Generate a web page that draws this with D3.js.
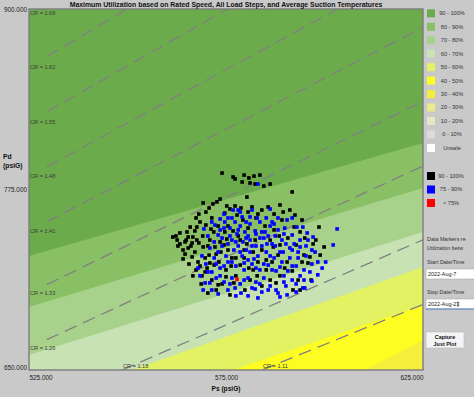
<!DOCTYPE html>
<html>
<head>
<meta charset="utf-8">
<script src="https://cdn.jsdelivr.net/npm/d3@7"></script>
<style>
  body { margin: 0; background: #c9c9c9; overflow: hidden; }
  svg { display: block; font-family: "Liberation Sans", Arial, sans-serif; }
</style>
</head>
<body>
<svg id="chart" width="474" height="397"></svg>
<script>
// ---- data ----
const chartTitle = "Maximum Utilization based on Rated Speed, All Load Steps, and Average Suction Temperatures";
const psTicks = [525, 575, 625];
const pdTicks = [650, 775, 900];

const bandLabels = ["90 - 100%", "80 - 90%", "70 - 80%", "60 - 70%", "50 - 60%", "40 - 50%",
                    "30 - 40%", "20 - 30%", "10 - 20%", "0 - 10%", "Unsafe"];
const bandColors = ["#6bab4c", "#8ac065", "#a8d28b", "#c8e2b4", "#e2f262", "#fdfd22",
                    "#f3ef3a", "#ebe98a", "#e6e6c3", "#dcdcdc", "#ffffff"];

// lower edge of each utilization band (first 6 bands), given as two (Ps, Pd) points
const edgeStartPs = [525, 525, 525, 551.1, 576.8, 610.3];
const edgeStartPd = [728.9, 693.6, 660.4, 650.0, 650.0, 650.0];
const edgeEndPs   = [625, 625, 625, 625, 625, 625];
const edgeEndPd   = [807.2, 776.0, 745.6, 721.3, 695.0, 670.8];

// compression ratio reference lines
const crValues = [1.69, 1.62, 1.55, 1.48, 1.41, 1.33, 1.26, 1.18, 1.11];

const markerLabels = ["90 - 100%", "75 - 90%", "< 75%"];
const markerColors = ["#000000", "#0000ff", "#ff0000"];

const blackPoints = [
  [574.0,786.4],[576.8,783.7],[577.3,782.3],[579.6,785.0],[580.8,783.0],[582.1,784.3],[583.6,785.0],
  [579.1,780.2],[581.1,779.5],[582.4,778.8],[584.6,777.4],[586.2,778.8],[591.8,773.3],[580.3,769.8],
  [569.2,765.7],[571.7,765.0],[572.7,766.4],[573.5,768.4],[576.0,761.5],[577.3,763.6],[578.8,762.2],
  [581.6,762.9],[584.1,760.8],[585.7,762.9],[589.5,759.4],[591.2,760.8],[592.5,757.3],
  [561.5,742.1],[562.3,742.8],[563.3,744.9],[565.1,745.6],[566.6,742.1],[566.4,738.0],[567.6,749.0],
  [568.4,752.5],[564.1,726.9],[565.4,734.5],[567.1,731.7],[567.9,724.8],[569.7,727.6],[569.2,735.2],
  [564.6,738.7],[565.9,749.0],[570.4,703.3],[567.4,719.3],[568.9,715.2],[570.2,720.6],[571.4,712.3],
  [570.9,740.0],[571.9,745.6],[569.9,750.4],[571.4,755.3],[563.3,737.3],[562.6,740.0],[568.7,709.6],
  [572.5,705.4],[573.2,724.8],[573.7,731.7],[574.5,736.6],[575.0,719.3],[576.5,727.6],[577.5,715.2],
  [578.6,722.7],[579.6,733.1],[578.1,742.8],[575.5,749.7],[580.6,748.3],[582.4,740.0],[583.1,724.8],
  [584.1,733.1],[585.2,719.3],[581.1,712.3],[586.2,740.0],[587.2,747.0],[588.2,729.6],[589.2,753.9],
  [589.9,720.6],[592.0,705.4],[592.8,736.6],[593.8,745.6],[594.8,729.6],[595.8,724.1],[596.3,728.3],
  [596.6,712.3],[598.6,749.0],[599.9,735.2],[597.8,740.0],[594.3,753.9],[590.7,741.4],[587.7,710.3],
  [584.1,708.2],[579.8,705.4],[576.0,702.0],[574.0,709.6],[577.0,710.3],[575.2,740.7],[579.3,753.9],
  [582.6,755.3],[584.9,749.7],[573.0,749.7],[572.2,735.2],[570.7,729.6],[572.0,722.7],[568.1,738.0],
  [565.4,742.1],[567.1,746.3],[564.1,733.1],[570.4,735.9],[574.7,758.7],[577.8,757.3],[569.9,759.4],
  [567.4,755.3],[581.9,719.3],[586.7,724.8],[591.8,718.6],[593.3,712.3],[588.7,736.6],[580.3,737.3],
  [564.9,740.0],[566.1,735.9],[567.6,740.0],[569.1,742.8],[571.2,747.6],[562.8,735.9],[564.6,730.3],
  [566.4,728.3],[565.6,723.4],[568.4,722.0],[569.7,717.9],[566.6,715.2],[570.9,724.1],[572.5,730.3],
  [573.5,738.7],[574.7,745.6],[576.8,746.3],[578.6,740.0],[575.5,733.1],[577.5,727.6],[579.6,727.6],
  [576.3,722.0],[575.0,714.5],[573.0,709.0],[581.9,731.7],[580.8,720.6],[582.9,715.2],[585.2,726.2],
  [587.0,735.2],[588.5,742.8],[592.3,749.0],[595.0,741.4],[597.1,737.3],[598.9,729.6],[594.3,724.8],
  [590.5,724.8],[588.7,715.2],[586.2,712.3],[593.8,705.4],[583.1,758.0],[580.6,759.4],[575.2,763.6],
  [570.7,762.2],[568.1,758.0],[588.7,764.3],[587.2,758.0]
];

const bluePoints = [
  [583.1,778.8],
  [576.8,760.8],[578.1,760.8],[579.1,756.0],[581.1,756.0],[582.9,755.3],[586.2,761.5],[586.7,752.5],
  [590.5,753.9],[591.8,755.3],[593.0,749.0],[594.5,749.0],[595.6,744.9],[597.1,742.1],[603.2,747.7],
  [602.2,736.6],[596.8,733.1],[595.0,706.8],[590.5,702.0],[588.7,700.6],[588.2,703.3],[594.5,706.8],
  [582.4,706.1],[578.8,703.3],[577.3,706.8],[569.7,710.3],[569.2,705.4],[570.9,710.3],[568.4,715.2],
  [572.2,750.4],[573.5,747.0],[574.7,752.5],[576.0,748.3],[577.3,752.5],[578.6,749.7],[579.8,745.6],
  [581.1,751.1],[582.4,746.3],[583.6,752.5],[584.9,745.6],[586.2,749.7],[588.2,747.0],[589.9,748.3],
  [591.8,743.5],[593.8,740.0],[595.3,735.9],[593.3,731.7],[591.2,734.5],[589.2,740.0],[587.5,742.8],
  [585.4,737.3],[583.6,741.4],[581.6,735.9],[580.1,741.4],[577.5,738.7],[576.0,742.8],[574.0,741.4],
  [572.0,738.7],[570.4,742.8],[569.4,747.7],[570.9,734.5],[573.0,731.7],[575.0,728.9],[577.0,733.1],
  [579.1,728.9],[581.1,731.7],[583.1,728.9],[585.2,731.7],[587.2,727.6],[589.2,724.8],[591.2,727.6],
  [592.8,722.0],[594.8,719.3],[596.3,717.9],[593.8,715.2],[591.8,712.3],[589.7,715.2],[587.7,718.6],
  [585.7,722.7],[583.6,719.3],[581.6,723.4],[579.6,719.3],[577.5,722.0],[575.5,724.8],[573.5,720.6],
  [571.4,717.9],[569.9,723.4],[572.5,713.7],[574.5,710.9],[576.5,713.7],[578.6,709.6],[580.6,713.7],
  [582.6,710.9],[584.6,713.7],[586.2,708.2],[590.2,708.2],[592.8,704.0],[584.1,704.0],[580.6,701.3],
  [575.5,705.4],[573.0,702.7],[578.1,735.9],[580.1,733.1],[574.0,735.9],[575.5,737.3],[572.0,727.6],
  [579.6,724.1],[582.1,726.9],[584.1,735.9],[587.5,735.9],[589.5,731.7],[586.2,729.0],[578.1,747.0],
  [580.6,742.8],[582.6,744.2],[584.6,741.4],[576.5,755.3],[574.5,758.0],[588.2,755.3],[589.7,744.2],
  [598.3,724.8],[597.6,731.7],[599.4,720.6],[596.8,711.6],[567.9,720.6],[568.9,729.0],
  [571.4,752.5],[573.0,743.5],[574.5,748.3],[576.5,740.0],[577.8,744.2],[579.3,738.7],[581.1,740.0],
  [582.6,735.9],[584.1,745.6],[585.7,742.8],[586.7,737.3],[588.7,731.7],[590.2,737.3],[592.3,737.3],
  [593.3,727.6],[595.3,729.0],[596.8,723.4],[594.8,712.3],[592.8,709.6],[590.7,718.6],[588.7,721.3],
  [586.7,719.3],[584.6,723.4],[582.6,720.6],[580.6,726.2],[578.6,731.7],[576.5,724.8],[574.5,722.0],
  [572.5,723.4],[570.4,717.9],[571.4,705.4],[573.5,715.2],[576.0,709.6],[579.6,712.3],[581.6,706.8],
  [583.6,709.6],[585.7,705.4],[587.7,705.4],[589.7,710.9],[591.8,722.0],[593.8,735.2],[595.8,740.0],
  [587.2,751.1],[585.2,755.3],[580.1,752.5],[575.5,755.3],[573.5,754.6],[578.6,759.4],[581.6,760.8],
  [591.8,733.1],[600.3,724.8],[598.3,715.9],[577.5,701.3],[583.1,699.9]
];

const redPoints = [[577.8,712.8]];

// ---- chart ----
var svg = d3.select("#chart");

var x = d3.scaleLinear().domain([525, 625]).range([29, 423]);
var y = d3.scaleLinear().domain([650, 900]).range([370, 9]);

svg.append("defs").append("clipPath")
    .attr("id", "plotClip")
  .append("rect")
    .attr("x", x(525)).attr("y", y(900))
    .attr("width", x(625) - x(525)).attr("height", y(650) - y(900));

var plot = svg.append("g").attr("clip-path", "url(#plotClip)");

// top band fills the whole area, the others are laid over it below their edge
plot.append("rect")
    .attr("x", x(525)).attr("y", y(900))
    .attr("width", x(625) - x(525)).attr("height", y(650) - y(900))
    .attr("fill", bandColors[0]);

edgeStartPs.forEach(function(ps0, i) {
  var pts = [[ps0, edgeStartPd[i]], [edgeEndPs[i], edgeEndPd[i]],
             [edgeEndPs[i], 600], [ps0, 600]];
  plot.append("path")
      .attr("d", "M" + pts.map(function(p) { return x(p[0]) + "," + y(p[1]); }).join("L") + "Z")
      .attr("fill", bandColors[i + 1]);
});

// CR lines: (Pd + 14.7) = CR * (Ps + 14.7)
function pdAt(cr, ps) { return cr * (ps + 14.7) - 14.7; }
function psAt(cr, pd) { return (pd + 14.7) / cr - 14.7; }

crValues.forEach(function(cr) {
  var ps0, pd0, lineStart;
  if (pdAt(cr, 525) >= 650) {
    ps0 = 525; pd0 = pdAt(cr, 525); lineStart = 529.5;
  } else {
    ps0 = psAt(cr, 650); pd0 = 650; lineStart = ps0;
  }
  plot.append("line")
      .attr("x1", x(lineStart)).attr("y1", y(pdAt(cr, lineStart)))
      .attr("x2", x(625)).attr("y2", y(pdAt(cr, 625)))
      .attr("stroke", "#808080")
      .attr("stroke-width", 1.3)
      .attr("stroke-dasharray", "13,7");
  svg.append("text")
      .attr("x", x(ps0) + 1)
      .attr("y", Math.min(y(pd0), 366))
      .attr("dy", "0.35em")
      .style("font-size", "5.6px")
      .style("fill", "#3a3a3a")
      .text("CR = " + cr.toFixed(2));
});

// scatter
[blackPoints, bluePoints, redPoints].forEach(function(set, i) {
  plot.selectAll(null)
      .data(set)
      .enter().append("rect")
      .attr("x", function(d) { return x(d[0]) - 1.8; })
      .attr("y", function(d) { return y(d[1]) - 1.8; })
      .attr("width", 3.6)
      .attr("height", 3.6)
      .attr("fill", markerColors[i]);
});

// frame
svg.append("rect")
    .attr("x", x(525)).attr("y", y(900))
    .attr("width", x(625) - x(525)).attr("height", y(650) - y(900))
    .attr("fill", "none")
    .attr("stroke", "#7d7d7d")
    .attr("stroke-width", 1.4);

// axes
var yAxis = svg.append("g")
    .attr("transform", "translate(" + x(525) + ",0)")
    .call(d3.axisLeft(y).tickValues(pdTicks).tickSize(0).tickPadding(2).tickFormat(d3.format(".3f")));
yAxis.select(".domain").remove();
yAxis.selectAll("text").style("font-size", "6.4px").style("fill", "#222")
    .attr("y", function(d) { return d === 650 ? -3 : 0; });

var xAxis = svg.append("g")
    .attr("transform", "translate(0," + y(650) + ")")
    .call(d3.axisBottom(x).tickValues(psTicks).tickSize(0).tickPadding(5).tickFormat(d3.format(".3f")));
xAxis.select(".domain").remove();
xAxis.selectAll("text").style("font-size", "6.4px").style("fill", "#222")
    .attr("text-anchor", function(d, i) { return i === 0 ? "start" : (i === psTicks.length - 1 ? "end" : "middle"); });

svg.append("text")
    .attr("x", 226).attr("y", 391)
    .attr("text-anchor", "middle")
    .style("font-size", "6.6px").style("font-weight", "bold").style("fill", "#111")
    .text("Ps (psiG)");

svg.append("text")
    .attr("x", 3).attr("y", 159)
    .style("font-size", "6.8px").style("font-weight", "bold").style("fill", "#111")
    .text("Pd");
svg.append("text")
    .attr("x", 3).attr("y", 168)
    .style("font-size", "6.8px").style("font-weight", "bold").style("fill", "#111")
    .text("(psiG)");

// title
svg.append("text")
    .attr("x", 226).attr("y", 6.5)
    .attr("text-anchor", "middle")
    .style("font-size", "6.9px").style("font-weight", "bold").style("fill", "#111")
    .text(chartTitle);

// legend for bands
var legend = svg.append("g");
bandLabels.forEach(function(lab, i) {
  var cy = 13.3 + i * 13.46;
  legend.append("rect")
      .attr("x", 427).attr("y", cy - 4)
      .attr("width", 8).attr("height", 8)
      .attr("fill", bandColors[i]);
  legend.append("text")
      .attr("x", 452).attr("y", cy).attr("dy", "0.35em")
      .attr("text-anchor", "middle")
      .style("font-size", "5.6px").style("fill", "#333")
      .text(lab);
});

markerLabels.forEach(function(lab, i) {
  var cy = 176 + i * 13.5;
  legend.append("rect")
      .attr("x", 427).attr("y", cy - 4)
      .attr("width", 8).attr("height", 8)
      .attr("fill", markerColors[i]);
  legend.append("text")
      .attr("x", 451).attr("y", cy).attr("dy", "0.35em")
      .attr("text-anchor", "middle")
      .style("font-size", "5.6px").style("fill", "#333")
      .text(lab);
});

// side panel
var side = svg.append("g").style("font-size", "5.4px").style("fill", "#333");
side.append("text").attr("x", 427).attr("y", 241).text("Data Markers re");
side.append("text").attr("x", 427).attr("y", 250).text("Utilization betw");
side.append("text").attr("x", 427).attr("y", 264).text("Start Date/Time");
side.append("text").attr("x", 427).attr("y", 294).text("Stop Date/Time");

side.append("rect").attr("x", 426).attr("y", 269).attr("width", 50).attr("height", 10)
    .attr("fill", "#fff").attr("stroke", "#aaa").attr("stroke-width", 0.6);
side.append("text").attr("x", 428).attr("y", 276).style("fill", "#222").text("2022-Aug-7");

side.append("rect").attr("x", 426).attr("y", 299).attr("width", 50).attr("height", 10)
    .attr("fill", "#fff").attr("stroke", "#aaa").attr("stroke-width", 0.6);
side.append("line").attr("x1", 426).attr("x2", 474).attr("y1", 309).attr("y2", 309)
    .attr("stroke", "#4f7fc8").attr("stroke-width", 1);
side.append("text").attr("x", 428).attr("y", 306).style("fill", "#222").text("2022-Aug-23");
side.append("line").attr("x1", 458).attr("x2", 458).attr("y1", 301.5).attr("y2", 307)
    .attr("stroke", "#222").attr("stroke-width", 0.6);

side.append("rect").attr("x", 426).attr("y", 332).attr("width", 38).attr("height", 16)
    .attr("fill", "#f4f4f4").attr("stroke", "#bbb").attr("stroke-width", 0.6);
side.append("text").attr("x", 445).attr("y", 339).attr("text-anchor", "middle")
    .style("font-weight", "bold").style("fill", "#111").text("Capture");
side.append("text").attr("x", 445).attr("y", 346).attr("text-anchor", "middle")
    .style("font-weight", "bold").style("fill", "#111").text("Just Plot");
</script>
</body>
</html>
